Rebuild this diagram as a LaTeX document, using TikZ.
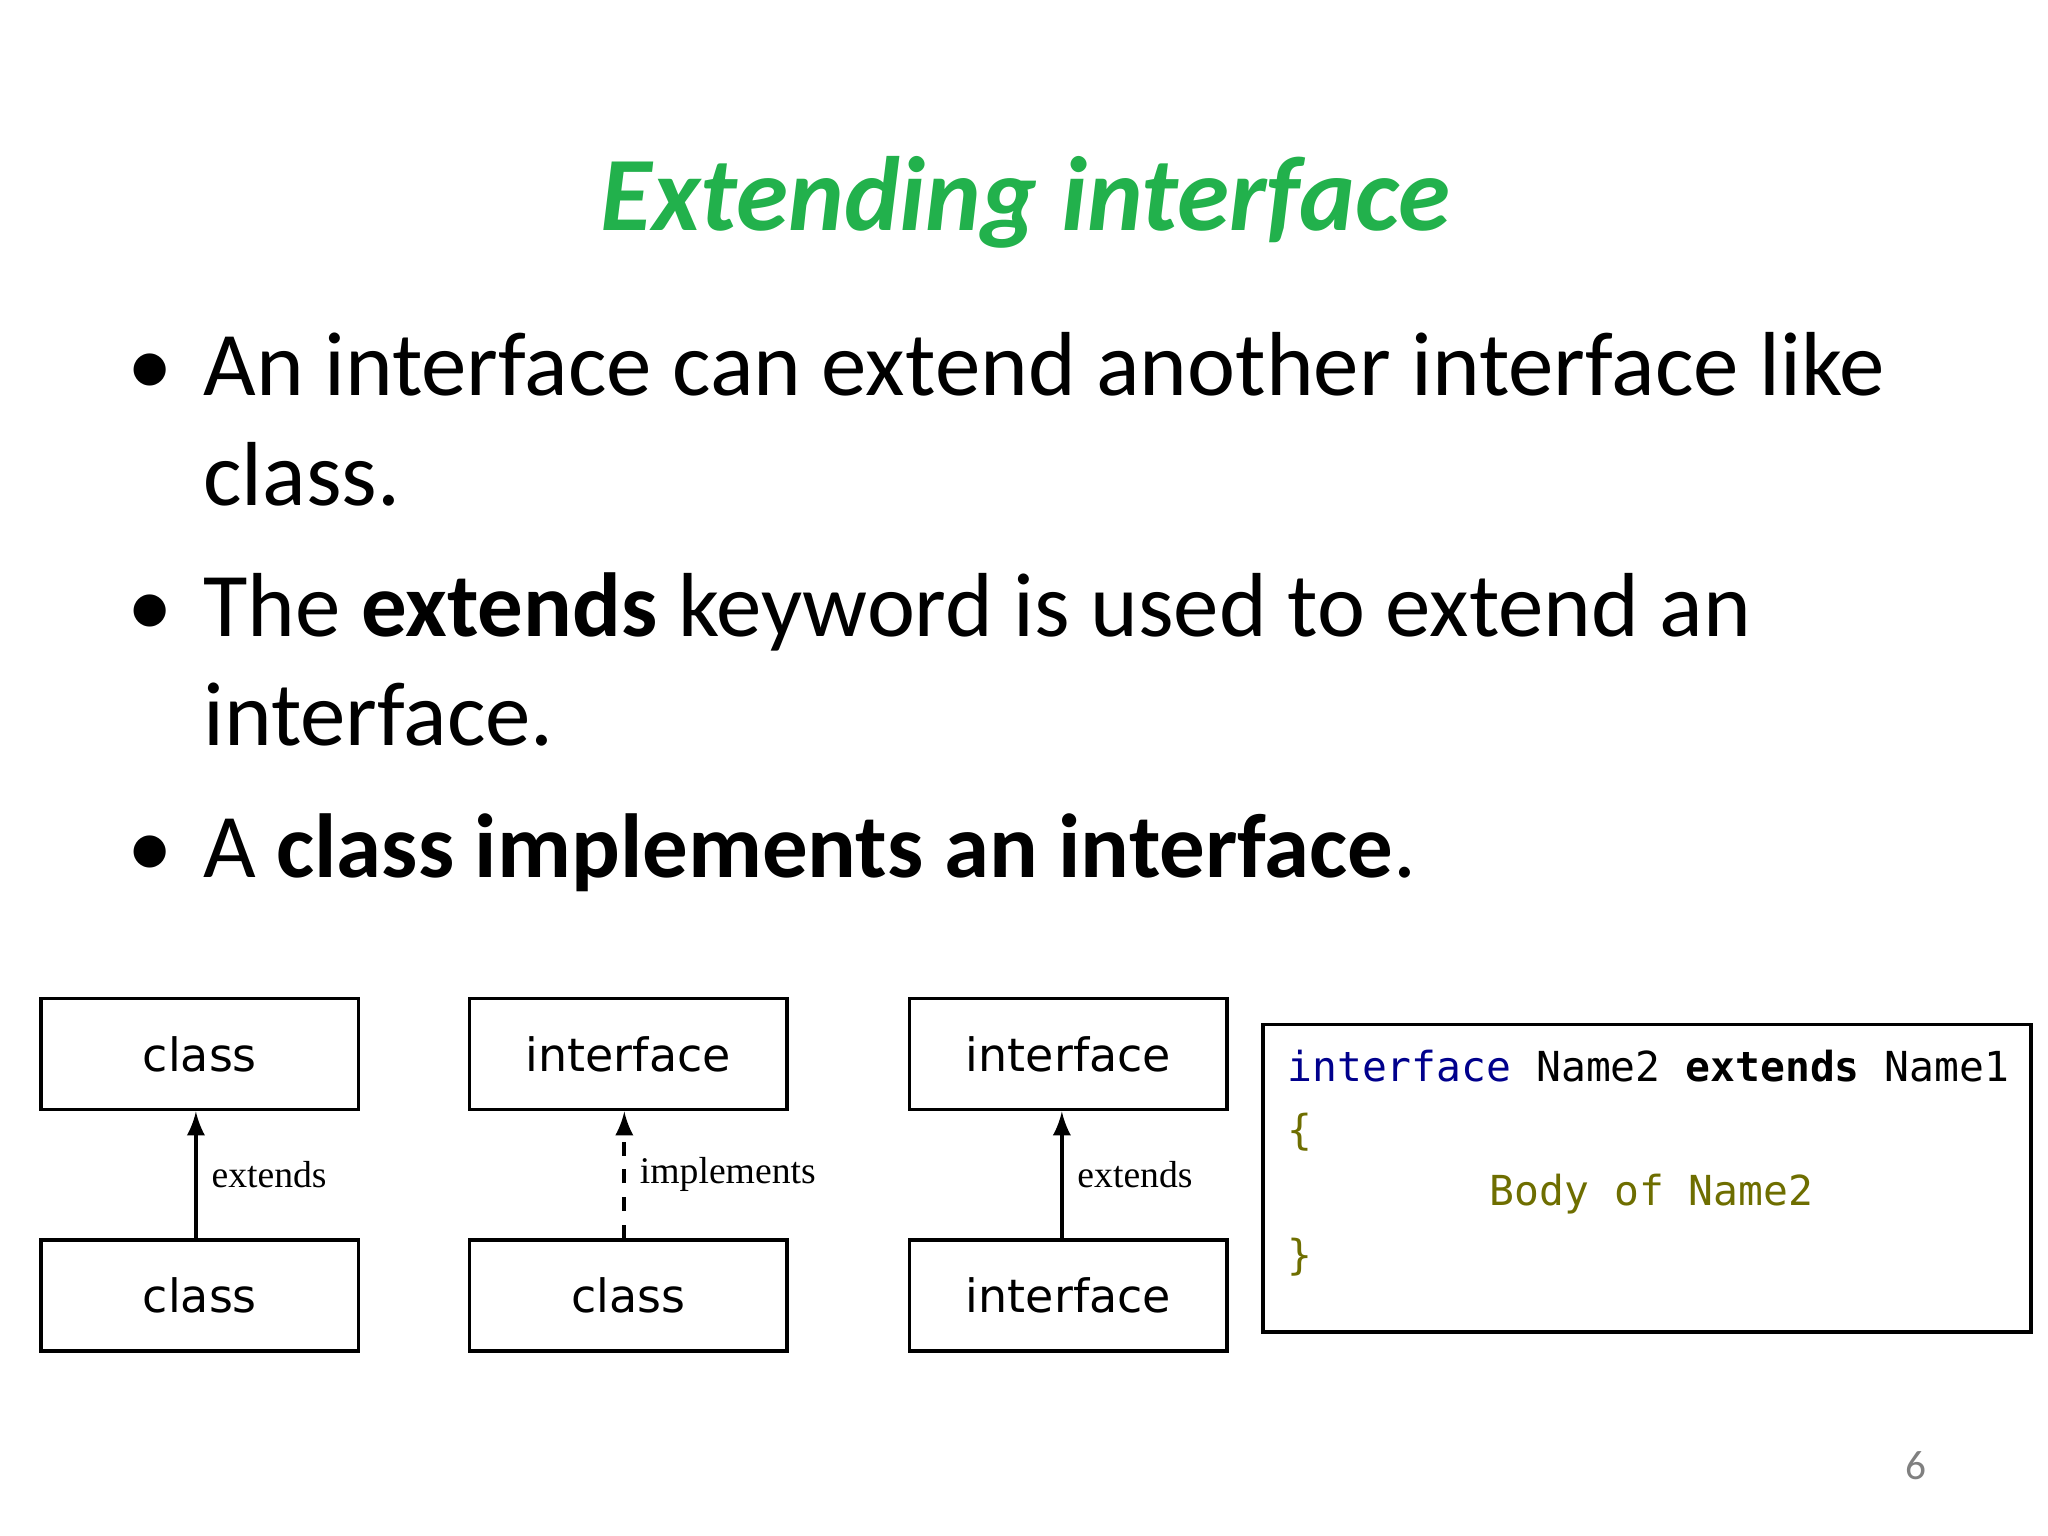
\documentclass[tikz,border=0pt]{standalone}
\usepackage{fontspec}
\setmainfont{Carlito}
\newfontfamily\boxfont{DejaVu Sans}
\newfontfamily\codefont{DejaVu Sans Mono}
\newfontfamily\labfont{Liberation Serif}
\usetikzlibrary{positioning}
\definecolor{titlegreen}{RGB}{34,177,76}
\definecolor{kwblue}{RGB}{0,0,140}
\definecolor{olive}{RGB}{110,110,0}
\begin{document}
\begin{tikzpicture}[x=0.01cm,y=-0.01cm,
    umlbox/.style={draw,thick,minimum width=2.43cm,minimum height=0.85cm,inner sep=0pt,font=\boxfont\fontsize{10}{12}\selectfont},
    bullet/.style={anchor=base west,inner sep=0pt,font=\fontsize{19.8}{24}\selectfont},
    lab/.style={font=\labfont\fontsize{8.2}{10}\selectfont,inner sep=3pt},
    codeline/.style={anchor=base west,inner sep=0pt,font=\codefont\fontsize{9}{11}\selectfont}]
    \useasboundingbox (0,0) rectangle (1568,1176);
    % title
    \node[text=titlegreen,font=\bfseries\itshape\fontsize{23}{28}\selectfont] (title) at (785,155) {Extending interface};
    % bullets
    \node[bullet] (b1) at (97,303) {\textbullet};
    \node[bullet] (t1) at (155,303) {An interface can extend another interface like};
    \node[bullet] (t1b) at (155,387) {class.};
    \node[bullet] (b2) at (97,487) {\textbullet};
    \node[bullet] (t2) at (155,487) {The \textbf{extends} keyword is used to extend an};
    \node[bullet] (t2b) at (155,571) {interface.};
    \node[bullet] (b3) at (97,672) {\textbullet};
    \node[bullet] (t3) at (155,672) {A \textbf{class implements an interface}.};
    % diagrams
    \node[umlbox] (c1) at (153,807) {class};
    \node[umlbox] (c2) at (153,992) {class};
    \node[umlbox] (i1) at (481,807) {interface};
    \node[umlbox] (k1) at (481,992) {class};
    \node[umlbox] (i2) at (818,807) {interface};
    \node[umlbox] (i3) at (818,992) {interface};
    \draw[thick,-latex] (c2.north -| 150,0) -- node[lab,right] {extends} (c1.south -| 150,0);
    \draw[thick,dashed,-latex] (k1.north -| 478,0) -- node[lab,right] {implements} (i1.south -| 478,0);
    \draw[thick,-latex] (i3.north -| 813,0) -- node[lab,right] {extends} (i2.south -| 813,0);
    % code
    \node[draw,thick,minimum width=5.88cm,minimum height=2.35cm,inner sep=0pt] (code) at (1261,902) {};
    \node[codeline] (l1) at (985,828) {\textcolor{kwblue}{interface} Name2 \textbf{extends} Name1};
    \node[codeline,text=olive] (l2) at (985,876) {\{};
    \node[codeline,text=olive] (l3) at (1140,923) {Body of Name2};
    \node[codeline,text=olive] (l4) at (985,972) {\}};
    \node[text=gray,font=\fontsize{9}{11}\selectfont] (page) at (1467,1122) {6};
\end{tikzpicture}
\end{document}
